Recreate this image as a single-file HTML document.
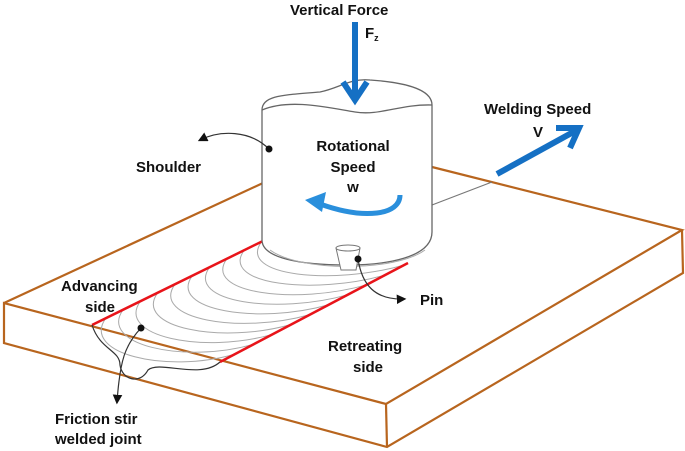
<!DOCTYPE html>
<html><head><style>
body{margin:0;background:#fff}
svg{display:block}
text{font-family:"Liberation Sans",sans-serif;font-weight:bold;font-size:15px;fill:#111}
</style></head><body>
<svg width="685" height="451" viewBox="0 0 685 451">
<defs>
<marker id="ah" markerWidth="8" markerHeight="8" refX="6" refY="4" orient="auto"><path d="M0,0 L8,4 L0,8 z" fill="#111"/></marker>
</defs>
<!-- plate -->
<g fill="none" stroke="#b8651e" stroke-width="2.2">
<path d="M4,303 L263,183"/>
<path d="M432,167 L682,230 L386,404 L4,303 L4,343 L387,447 L683,273 L682,230"/>
<path d="M386,404 L387,447"/>
</g>
<!-- welded region arcs -->
<g fill="none" stroke="#aaa" stroke-width="1">
<path d="M105.8,318.2 C80.8,353.2 165,374.1 235,354.1"/>
<path d="M123.1,309.7 C98.1,344.7 183.8,364.2 253.8,344.2"/>
<path d="M140.4,301.2 C115.4,336.2 202.6,354.3 272.6,334.3"/>
<path d="M157.7,292.7 C132.7,327.7 221.4,344.4 291.4,324.4"/>
<path d="M175,284.2 C150,319.2 240.2,334.5 310.2,314.5"/>
<path d="M192.3,275.7 C167.3,310.7 259,324.6 329,304.6"/>
<path d="M209.6,267.2 C184.6,302.2 277.8,314.7 347.8,294.7"/>
<path d="M226.9,258.7 C201.9,293.7 296.6,304.8 366.6,284.8"/>
<path d="M244.2,250.2 C219.2,285.2 315.4,294.9 385.4,274.9"/>
<path d="M261.5,241.7 C236.5,276.7 334.2,285 404.2,265"/>
</g>
<!-- red lines -->
<g stroke="#e8141a" stroke-width="2.5">
<line x1="92" y1="325" x2="265" y2="240"/>
<line x1="220" y1="362" x2="408" y2="263"/>
</g>
<path d="M432,205 L492,182" stroke="#777" stroke-width="1.2" fill="none"/>
<!-- cylinder -->
<path d="M262,110 C262,95 285,95 320,92 C340,88 350,78 370,80 C400,82 432,88 432,105 L432,232 C432,258 385,265 347,265 C300,265 262,258 262,240 Z" fill="#fff" stroke="#666" stroke-width="1.3"/>
<path d="M262,110 C290,98 330,108 355,112 C380,116 400,104 432,105" fill="none" stroke="#666" stroke-width="1.3"/>
<path d="M270,250 C300,272 395,272 425,250" fill="none" stroke="#aaa" stroke-width="1"/>
<!-- pin -->
<path d="M336,248 L360,248 L356,270 L341,270 Z" fill="#fff" stroke="#777" stroke-width="1"/>
<ellipse cx="348" cy="248" rx="12" ry="3" fill="#fff" stroke="#777" stroke-width="1"/>
<!-- leaders -->
<g fill="none" stroke="#333" stroke-width="1.2">
<path d="M269,149 C250,130 220,130 200,140" marker-end="url(#ah)"/>
<path d="M358,259 C362,285 375,300 404,299" marker-end="url(#ah)"/>
<path d="M141,328 C125,345 120,360 117,402" marker-end="url(#ah)"/>
<path d="M92,325 C100,350 120,350 120,365 C122,380 140,385 148,370 C160,360 200,380 220,362"/>
</g>
<circle cx="269" cy="149" r="3.5" fill="#111"/>
<circle cx="358" cy="259" r="3.5" fill="#111"/>
<circle cx="141" cy="328" r="3.5" fill="#111"/>
<!-- blue arrows -->
<g stroke="#1570c4" stroke-width="6" fill="none">
<line x1="355" y1="22" x2="355" y2="98"/>
<polyline points="343,82 355,100 367,82"/>
<line x1="497" y1="174" x2="577" y2="130"/>
<polyline points="556,128 579,128 570,148"/>
</g>
<path d="M400,195 C400,215 365,220 320,204" fill="none" stroke="#2a8fdc" stroke-width="5"/>
<path d="M305,200 L326,192 L322,212 Z" fill="#2a8fdc"/>
<!-- labels -->
<text x="290" y="15">Vertical Force</text>
<text x="365" y="38">F<tspan font-size="9" dy="3">z</tspan></text>
<text x="484" y="114">Welding Speed</text>
<text x="533" y="137" font-weight="normal">V</text>
<text x="353" y="151" text-anchor="middle">Rotational</text>
<text x="353" y="172" text-anchor="middle">Speed</text>
<text x="353" y="192" text-anchor="middle">w</text>
<text x="136" y="172">Shoulder</text>
<text x="61" y="291">Advancing</text>
<text x="85" y="312">side</text>
<text x="420" y="305">Pin</text>
<text x="328" y="351">Retreating</text>
<text x="353" y="372">side</text>
<text x="55" y="424">Friction stir</text>
<text x="55" y="444">welded joint</text>
</svg>
</body></html>
